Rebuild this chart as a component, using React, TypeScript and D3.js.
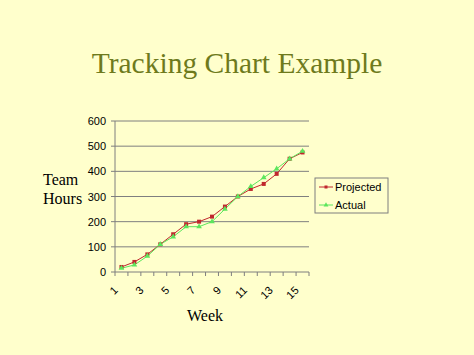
import React from "react";
import * as d3 from "d3";

const weeks = [1, 2, 3, 4, 5, 6, 7, 8, 9, 10, 11, 12, 13, 14, 15];
const projected = [20, 40, 70, 110, 150, 190, 200, 220, 260, 300, 330, 350, 390, 450, 475];
const actual = [15, 28, 63, 110, 140, 180, 180, 200, 250, 300, 340, 375, 410, 450, 480];
const yTicks = [0, 100, 200, 300, 400, 500, 600];
const xLabels = [1, 3, 5, 7, 9, 11, 13, 15];

const W = 474, H = 355;
const left = 115, right = 309, top = 121, bottom = 272;

export default function App() {
  const band = d3.scaleBand<number>().domain(weeks).range([left, right]).padding(0);
  const x = (w: number) => (band(w) as number) + band.bandwidth() / 2;
  const y = d3.scaleLinear().domain([0, 600]).range([bottom, top]);
  const line = d3.line<number>().x((_, i) => x(weeks[i])).y((d) => y(d));
  const tickXs = weeks.map((w) => band(w) as number).concat([right]);
  const red = "#c0272d";
  const green = "#5ce65c";
  const grid = "#7f7f7f";
  const sans = "'Liberation Sans', Arial, sans-serif";
  const serif = "'Liberation Serif', 'Times New Roman', serif";
  return (
    <svg width={W} height={H} style={{ position: "absolute", left: 0, top: 0 }}>
      <rect width={W} height={H} fill="#ffffcc" />
      <text x={237} y={73} textAnchor="middle" fontFamily={serif} fontSize={29.5} fill="#6e7a1c">
        Tracking Chart Example
      </text>
      {yTicks.map((t) => (
        <g key={t}>
          <line x1={left} x2={right} y1={y(t)} y2={y(t)} stroke={grid} strokeWidth={1} />
          <line x1={left - 4} x2={left} y1={y(t)} y2={y(t)} stroke={grid} strokeWidth={1} />
          <text x={106} y={y(t) + 4} textAnchor="end" fontFamily={sans} fontSize={11} fill="#000">
            {t}
          </text>
        </g>
      ))}
      <line x1={left} x2={left} y1={top} y2={bottom} stroke={grid} strokeWidth={1} />
      {tickXs.map((tx, i) => (
        <line key={i} x1={tx} x2={tx} y1={bottom} y2={bottom + 4} stroke={grid} strokeWidth={1} />
      ))}
      {xLabels.map((w) => (
        <text
          key={w}
          transform={`translate(${x(w) - 3},${bottom + 19}) rotate(-45)`}
          textAnchor="end"
          fontFamily={sans}
          fontSize={11}
          fill="#000"
        >
          {w}
        </text>
      ))}
      <path d={line(projected) || ""} fill="none" stroke={red} strokeWidth={1} />
      <path d={line(actual) || ""} fill="none" stroke={green} strokeWidth={1} />
      {projected.map((v, i) => (
        <rect key={"p" + i} x={x(weeks[i]) - 2} y={y(v) - 2} width={4} height={4} fill={red} />
      ))}
      {actual.map((v, i) => (
        <path
          key={"a" + i}
          d={d3.symbol(d3.symbolTriangle, 14)() || ""}
          transform={`translate(${x(weeks[i])},${y(v)})`}
          fill={green}
        />
      ))}
      <text x={43} y={185} fontFamily={serif} fontSize={16} fill="#000">Team</text>
      <text x={43} y={204} fontFamily={serif} fontSize={16} fill="#000">Hours</text>
      <text x={205} y={321} textAnchor="middle" fontFamily={serif} fontSize={16} fill="#000">Week</text>
      <rect x={315} y={178} width={73} height={35} fill="#ffffcc" stroke={grid} strokeWidth={1} />
      <line x1={319} x2={333} y1={187} y2={187} stroke={red} />
      <rect x={324.5} y={185.5} width={3} height={3} fill={red} />
      <text x={335} y={191} fontFamily={sans} fontSize={11} fill="#000">Projected</text>
      <line x1={319} x2={333} y1={205} y2={205} stroke={green} />
      <path d={d3.symbol(d3.symbolTriangle, 10)() || ""} transform="translate(326,205)" fill={green} />
      <text x={335} y={209} fontFamily={sans} fontSize={11} fill="#000">Actual</text>
    </svg>
  );
}
